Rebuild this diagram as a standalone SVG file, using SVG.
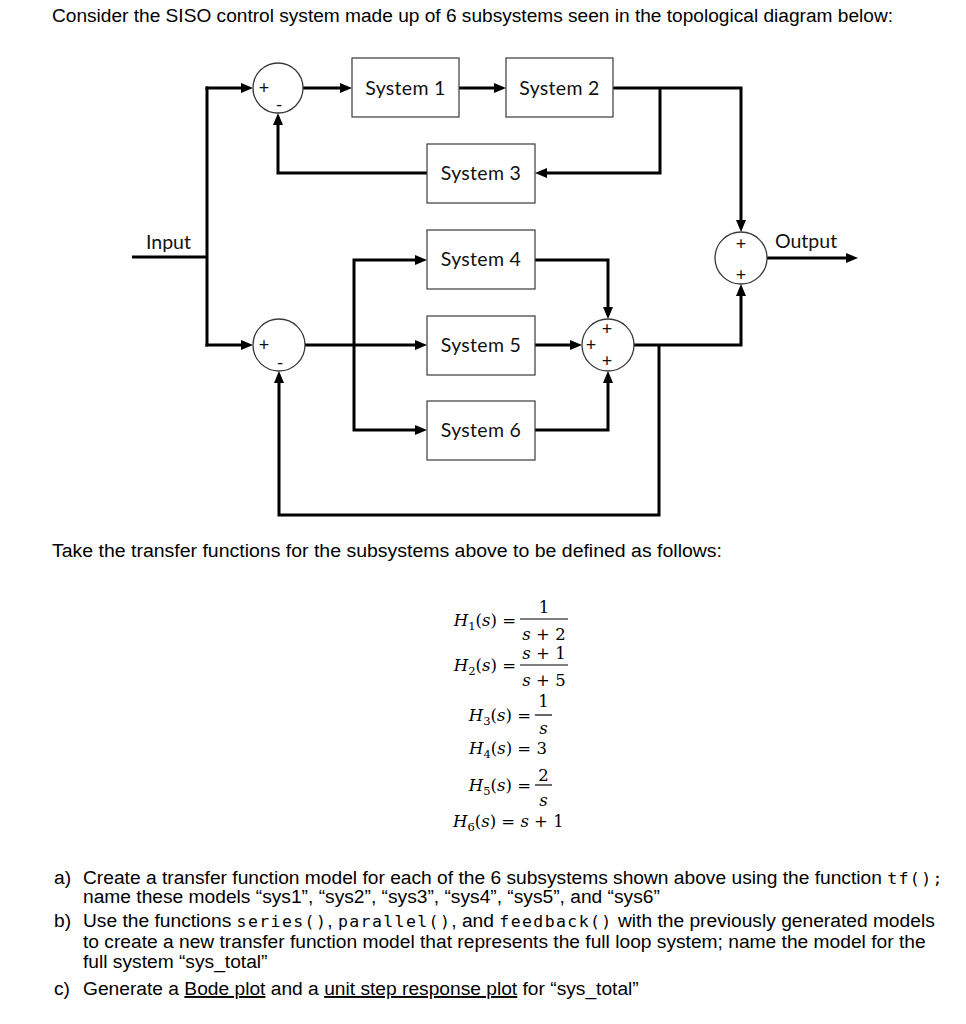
<svg xmlns="http://www.w3.org/2000/svg" width="966" height="1024" viewBox="0 0 966 1024">
<style>
.t{font-family:"Liberation Sans",Arial,sans-serif;font-size:18px;fill:#000}
.q{font-family:"Liberation Sans",Arial,sans-serif;font-size:19.2px;fill:#000}
.mono{font-family:"DejaVu Sans Mono","Liberation Mono",monospace;font-size:16.5px;letter-spacing:1.4px}
.lbl{font-family:Lato,"Open Sans",sans-serif;font-size:19.5px;fill:#111}
.blbl{font-family:Lato,"Open Sans",sans-serif;font-size:19.5px;letter-spacing:0.3px;fill:#111;text-anchor:middle}
.sg{font-family:Lato,"Open Sans",sans-serif;font-size:18px;fill:#111;text-anchor:middle}
.box{fill:#fff;stroke:#3a3a3a;stroke-width:1.2}
.sum{fill:#fff;stroke:#3a3a3a;stroke-width:1.3}
.w{fill:none;stroke:#000;stroke-width:3;stroke-linejoin:miter}
.wa{fill:none;stroke:#000;stroke-width:3;marker-end:url(#ah)}
.m{font-family:"DejaVu Serif","Liberation Serif",serif;font-size:16.5px;fill:#000}
.i{font-style:italic}
.sub{font-size:11.5px}
.bar{stroke:#000;stroke-width:1.2}
</style>
<defs>
<marker id="ah" markerWidth="12" markerHeight="10" refX="6" refY="5" orient="auto" markerUnits="userSpaceOnUse">
<path d="M0,0 L12,5 L0,10 Z" fill="#000"/>
</marker>
</defs>
<rect width="966" height="1024" fill="#fff"/>

<text class="t" x="52" y="22" textLength="841" lengthAdjust="spacingAndGlyphs">Consider the SISO control system made up of 6 subsystems seen in the topological diagram below:</text>

<g id="connectors">
<path class="w" d="M132,257 H207"/>
<path class="w" d="M207,86.5 V346.5"/>
<path class="wa" d="M205.5,88 H247"/>
<path class="wa" d="M205.5,345 H247"/>
<path class="wa" d="M303,88 H346"/>
<path class="wa" d="M459,88 H500"/>
<path class="wa" d="M613,88 H741 V226"/>
<path class="wa" d="M660,88 V173 H541"/>
<path class="wa" d="M427,173 H278 V119"/>
<path class="wa" d="M305,345 H421"/>
<path class="wa" d="M354,345 V260 H421"/>
<path class="wa" d="M354,345 V430 H421"/>
<path class="wa" d="M535,260 H608 V313"/>
<path class="wa" d="M535,345 H576"/>
<path class="wa" d="M535,430 H608 V377"/>
<path class="wa" d="M634,345 H741 V290"/>
<path class="wa" d="M659,345 V515 H279 V377"/>
<path class="wa" d="M767,258 H852"/>
</g>

<g id="input-label"><text class="lbl" x="146" y="249">Input</text></g>
<g id="output-label"><text class="lbl" x="775" y="248">Output</text></g>

<g id="sum1">
<circle class="sum" cx="278" cy="88" r="25"/>
<text class="sg" x="264" y="94">+</text>
<text class="sg" x="279" y="111">-</text>
</g>
<g id="system1">
<rect class="box" x="352" y="58" width="107" height="59"/>
<text class="blbl" x="405.5" y="95">System 1</text>
</g>
<g id="system2">
<rect class="box" x="506" y="58" width="107" height="59"/>
<text class="blbl" x="559.5" y="95">System 2</text>
</g>
<g id="system3">
<rect class="box" x="427" y="144" width="108" height="59"/>
<text class="blbl" x="481" y="180">System 3</text>
</g>
<g id="system4">
<rect class="box" x="427" y="230" width="108" height="59"/>
<text class="blbl" x="481" y="266">System 4</text>
</g>
<g id="system5">
<rect class="box" x="427" y="316" width="108" height="59"/>
<text class="blbl" x="481" y="352">System 5</text>
</g>
<g id="system6">
<rect class="box" x="427" y="401" width="108" height="59"/>
<text class="blbl" x="481" y="437">System 6</text>
</g>
<g id="sum2">
<circle class="sum" cx="279" cy="345" r="26"/>
<text class="sg" x="264" y="351">+</text>
<text class="sg" x="280" y="369">-</text>
</g>
<g id="sum4">
<circle class="sum" cx="608" cy="345" r="26"/>
<text class="sg" x="591" y="351">+</text>
<text class="sg" x="607" y="335">+</text>
<text class="sg" x="607" y="367">+</text>
</g>
<g id="sum3">
<circle class="sum" cx="741" cy="258" r="26"/>
<text class="sg" x="741" y="250">+</text>
<text class="sg" x="741" y="281">+</text>
</g>

<text class="t" x="52" y="557" textLength="670" lengthAdjust="spacingAndGlyphs">Take the transfer functions for the subsystems above to be defined as follows:</text>

<g id="equations">
<text class="m" x="516" y="626" text-anchor="end"><tspan class="i">H</tspan><tspan class="sub" dy="4">1</tspan><tspan dy="-4">(</tspan><tspan class="i">s</tspan>) =</text>
<line class="bar" x1="520" y1="619" x2="568" y2="619"/>
<text class="m" x="544" y="613" text-anchor="middle">1</text>
<text class="m" x="544" y="640" text-anchor="middle"><tspan class="i">s</tspan> + 2</text>

<text class="m" x="516" y="671" text-anchor="end"><tspan class="i">H</tspan><tspan class="sub" dy="4">2</tspan><tspan dy="-4">(</tspan><tspan class="i">s</tspan>) =</text>
<line class="bar" x1="520" y1="665" x2="568" y2="665"/>
<text class="m" x="544" y="659" text-anchor="middle"><tspan class="i">s</tspan> + 1</text>
<text class="m" x="544" y="686" text-anchor="middle"><tspan class="i">s</tspan> + 5</text>

<text class="m" x="531" y="721" text-anchor="end"><tspan class="i">H</tspan><tspan class="sub" dy="4">3</tspan><tspan dy="-4">(</tspan><tspan class="i">s</tspan>) =</text>
<line class="bar" x1="535" y1="715" x2="552" y2="715"/>
<text class="m" x="543.5" y="707" text-anchor="middle">1</text>
<text class="m" x="543.5" y="734" text-anchor="middle" font-style="italic">s</text>

<text class="m" x="469" y="754"><tspan class="i">H</tspan><tspan class="sub" dy="4">4</tspan><tspan dy="-4">(</tspan><tspan class="i">s</tspan>) = 3</text>

<text class="m" x="531" y="791" text-anchor="end"><tspan class="i">H</tspan><tspan class="sub" dy="4">5</tspan><tspan dy="-4">(</tspan><tspan class="i">s</tspan>) =</text>
<line class="bar" x1="535" y1="785" x2="552" y2="785"/>
<text class="m" x="543.5" y="781" text-anchor="middle">2</text>
<text class="m" x="543.5" y="806" text-anchor="middle" font-style="italic">s</text>

<text class="m" x="453" y="827"><tspan class="i">H</tspan><tspan class="sub" dy="4">6</tspan><tspan dy="-4">(</tspan><tspan class="i">s</tspan>) = <tspan class="i">s</tspan> + 1</text>
</g>

<g id="questions">
<text class="q" x="54" y="884">a)</text>
<text class="q" x="83" y="884">Create a transfer function model for each of the 6 subsystems shown above using the function <tspan class="mono">tf();</tspan></text>
<text class="q" x="83" y="903">name these models “sys1”, “sys2”, “sys3”, “sys4”, “sys5”, and “sys6”</text>
<text class="q" x="54" y="927">b)</text>
<text class="q" x="83" y="927">Use the functions <tspan class="mono">series()</tspan>, <tspan class="mono">parallel()</tspan>, and <tspan class="mono">feedback()</tspan> with the previously generated models</text>
<text class="q" x="83" y="948">to create a new transfer function model that represents the full loop system; name the model for the</text>
<text class="q" x="83" y="968">full system “sys_total”</text>
<text class="q" x="54" y="995">c)</text>
<text class="q" x="83" y="995">Generate a <tspan text-decoration="underline">Bode plot</tspan> and a <tspan text-decoration="underline">unit step response plot</tspan> for “sys_total”</text>
</g>
</svg>
